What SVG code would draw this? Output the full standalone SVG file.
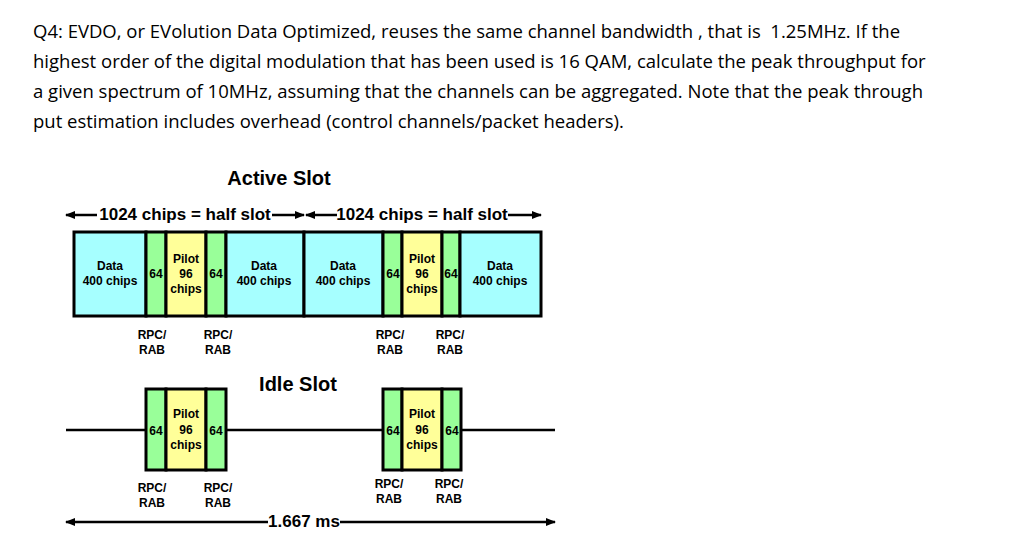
<svg xmlns="http://www.w3.org/2000/svg" width="1024" height="548" viewBox="0 0 1024 548">
<style>
.q{font-family:"Open Sans",sans-serif;font-size:18.5px;fill:#000}
.h{font-family:"Liberation Sans",Arial,sans-serif;font-weight:bold;fill:#000}
.s{font-size:12px}
.t{font-size:17px}
.ttl{font-size:20px}
.d{fill:#a6ffff;stroke:#000;stroke-width:3}
.g{fill:#99ff99;stroke:#000;stroke-width:3}
.y{fill:#ffff99;stroke:#000;stroke-width:3}
.ln{stroke:#000;stroke-width:2.5;fill:none}
</style>
<defs>
<marker id="ar" viewBox="0 0 10 10" refX="9" refY="5" markerWidth="4" markerHeight="4" orient="auto-start-reverse"><path d="M0,1 L10,5 L0,9 Z" fill="#000"/></marker>
</defs>
<rect width="1024" height="548" fill="#fff"/>
<g id="question">
<text class="q" x="33" y="38" xml:space="preserve">Q4: EVDO, or EVolution Data Optimized, reuses the same channel bandwidth , that is  1.25MHz. If the</text>
<text class="q" x="33" y="68">highest order of the digital modulation that has been used is 16 QAM, calculate the peak throughput for</text>
<text class="q" x="33" y="98">a given spectrum of 10MHz, assuming that the channels can be aggregated. Note that the peak through</text>
<text class="q" x="33" y="128">put estimation includes overhead (control channels/packet headers).</text>
</g>
<text class="h ttl" x="279" y="185" text-anchor="middle">Active Slot</text>
<text class="h ttl" x="298" y="391" text-anchor="middle">Idle Slot</text>
<g id="connectors">
<line class="ln" x1="97" y1="215" x2="66" y2="215" marker-end="url(#ar)"/>
<line class="ln" x1="272" y1="215" x2="304" y2="215" marker-end="url(#ar)"/>
<line class="ln" x1="337" y1="215" x2="306" y2="215" marker-end="url(#ar)"/>
<line class="ln" x1="508" y1="215" x2="541" y2="215" marker-end="url(#ar)"/>
<line class="ln" x1="66" y1="430" x2="555" y2="430"/>
<line class="ln" x1="268" y1="522" x2="66" y2="522" marker-end="url(#ar)"/>
<line class="ln" x1="340" y1="522" x2="555" y2="522" marker-end="url(#ar)"/>
</g>
<text class="h t" x="185" y="216" text-anchor="middle" dominant-baseline="middle">1024 chips = half slot</text>
<text class="h t" x="422" y="216" text-anchor="middle" dominant-baseline="middle">1024 chips = half slot</text>
<text class="h t" x="304" y="523" text-anchor="middle" dominant-baseline="middle">1.667 ms</text>
<g id="active">
<rect class="d" x="74" y="232" width="72" height="84"/>
<rect class="g" x="146" y="232" width="20" height="84"/>
<rect class="y" x="166" y="232" width="40" height="84"/>
<rect class="g" x="206" y="232" width="20" height="84"/>
<rect class="d" x="226" y="232" width="78" height="84"/>
<rect class="d" x="304" y="232" width="79" height="84"/>
<rect class="g" x="383" y="232" width="19" height="84"/>
<rect class="y" x="402" y="232" width="40" height="84"/>
<rect class="g" x="442" y="232" width="18" height="84"/>
<rect class="d" x="460" y="232" width="81" height="84"/>
<g class="h s" text-anchor="middle">
<text x="110" y="270">Data</text><text x="110" y="285">400 chips</text>
<text x="264" y="270">Data</text><text x="264" y="285">400 chips</text>
<text x="343" y="270">Data</text><text x="343" y="285">400 chips</text>
<text x="500" y="270">Data</text><text x="500" y="285">400 chips</text>
<text x="156" y="278">64</text><text x="216" y="278">64</text>
<text x="393" y="278">64</text><text x="451" y="278">64</text>
<text x="186" y="263">Pilot</text><text x="186" y="278">96</text><text x="186" y="293">chips</text>
<text x="422" y="263">Pilot</text><text x="422" y="278">96</text><text x="422" y="293">chips</text>
<text x="152" y="339">RPC/</text><text x="152" y="354">RAB</text>
<text x="218" y="339">RPC/</text><text x="218" y="354">RAB</text>
<text x="390" y="339">RPC/</text><text x="390" y="354">RAB</text>
<text x="450" y="339">RPC/</text><text x="450" y="354">RAB</text>
</g>
</g>
<g id="idle1">
<rect class="g" x="146" y="389" width="20" height="81"/>
<rect class="y" x="166" y="389" width="40" height="81"/>
<rect class="g" x="206" y="389" width="20" height="81"/>
</g>
<g id="idle2">
<rect class="g" x="383" y="389" width="19" height="81"/>
<rect class="y" x="402" y="389" width="40" height="81"/>
<rect class="g" x="442" y="389" width="19" height="81"/>
</g>
<g class="h s" text-anchor="middle">
<text x="156" y="435">64</text><text x="216" y="435">64</text>
<text x="393" y="435">64</text><text x="452" y="435">64</text>
<text x="186" y="418">Pilot</text><text x="186" y="434">96</text><text x="186" y="449">chips</text>
<text x="422" y="418">Pilot</text><text x="422" y="434">96</text><text x="422" y="449">chips</text>
<text x="152" y="492">RPC/</text><text x="152" y="507">RAB</text>
<text x="218" y="492">RPC/</text><text x="218" y="507">RAB</text>
<text x="389" y="488">RPC/</text><text x="389" y="503">RAB</text>
<text x="449" y="488">RPC/</text><text x="449" y="503">RAB</text>
</g>
</svg>
